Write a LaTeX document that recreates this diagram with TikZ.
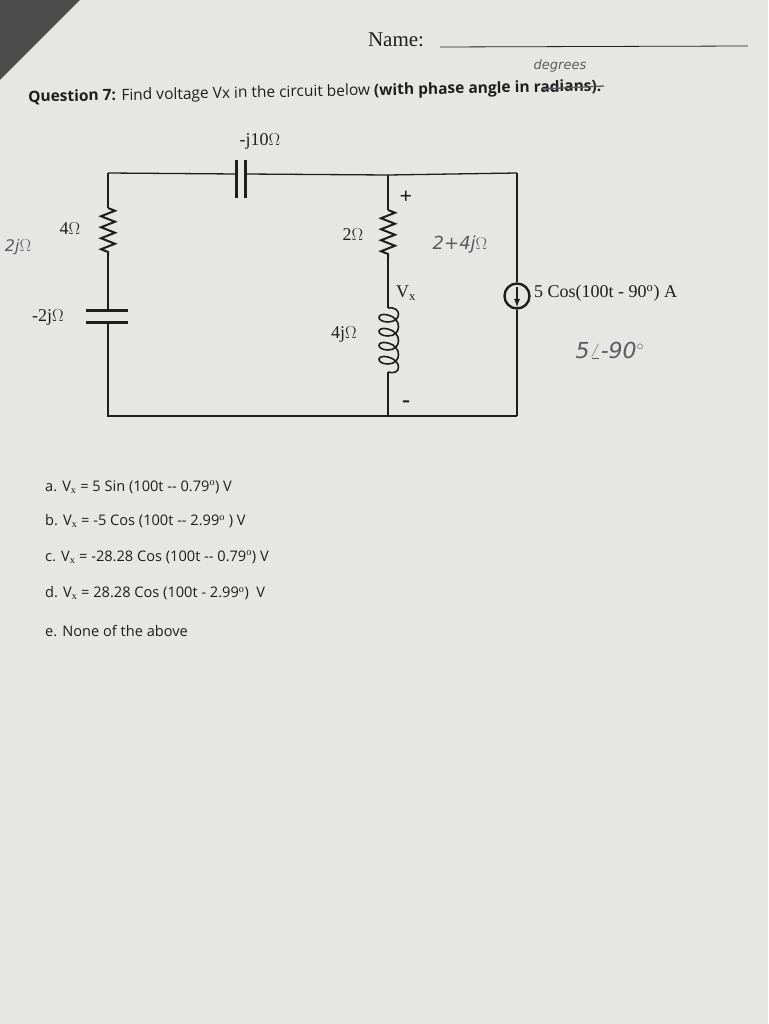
\documentclass[tikz,border=0pt]{standalone}
\usepackage{fontspec}
\setmainfont{Liberation Serif}
\newfontfamily\qsans{Open Sans}
\newfontfamily\hand{DejaVu Sans}
\usetikzlibrary{decorations.pathmorphing}
\definecolor{paper}{HTML}{E6E6E4}
\definecolor{ink}{HTML}{1E1E1E}
\definecolor{pen}{HTML}{5A5A60}
\tikzset{x=1pt,y=-1pt,
 wire/.style={draw=ink,line width=1.3pt},
 thick2/.style={draw=ink,line width=3pt},
 lbl/.style={font=\fontsize{18}{18}\selectfont,text=ink,inner sep=0pt},
 ans/.style={font=\qsans\fontsize{14.6}{15}\selectfont,text=ink,anchor=west,inner sep=0pt},
 hw/.style={font=\hand\fontsize{16}{16}\selectfont\itshape,text=pen,inner sep=0pt},
 res/.style={draw=ink,line width=2pt,decorate,decoration={zigzag,amplitude=7pt,segment length=11pt}},
}
\begin{document}
\begin{tikzpicture}
\useasboundingbox (0,0) rectangle (768,1024);
\fill[paper] (0,0) rectangle (768,1024);
\fill[black!70] (0,0) -- (80,0) -- (0,80) -- cycle;
% header
\node[font=\fontsize{21}{21}\selectfont,text=ink,inner sep=0pt] (name) at (396,40) {Name:};
\coordinate (nl1) at (440,47); \coordinate (nl2) at (748,46);
\draw[ink,line width=0.8pt] (nl1) -- (nl2);
\node[font=\qsans\fontsize{15.5}{15.5}\selectfont,text=ink,anchor=west,inner sep=0pt,rotate=1.1] (q) at (28,98) {\textbf{Question 7:} Find voltage Vx in the circuit below \textbf{(with phase angle in radians).}};
\draw[pen,line width=1.3pt] (542,89) -- (604,86);
\node[hw,font=\hand\fontsize{13}{13}\selectfont\itshape] (deg) at (560,66) {degrees};
% coordinates
\coordinate (tl) at (108,173); \coordinate (tm) at (388,175); \coordinate (tr) at (517,173);
\coordinate (bl) at (108,416); \coordinate (bm) at (388,416); \coordinate (br) at (517,416);
% top wire with capacitor
\coordinate (c1a) at (236,174); \coordinate (c1b) at (245,174);
\draw[wire] (tl) -- (c1a); \draw[wire] (c1b) -- (tm) -- (tr);
\draw[thick2] (236,160) -- (236,198); \draw[thick2] (245,160) -- (245,198);
\node[lbl] (lc1) at (260,141) {-j10$\Omega$};
% left branch
\draw[wire] (tl) -- (108,208);
\draw[res] (108,208) -- (108,256);
\draw[wire] (108,256) -- (108,310);
\draw[thick2] (86,310) -- (128,310); \draw[thick2] (86,322) -- (128,322);
\draw[wire] (108,322) -- (bl) -- (bm) -- (br);
\node[lbl] (lr1) at (70,229) {4$\Omega$};
\node[lbl] (lc2) at (48,317) {-2j$\Omega$};
\node[hw] (h1) at (18,247) {2j$\Omega$};
% middle branch
\draw[wire] (tm) -- (388,210);
\draw[res] (388,210) -- (388,258);
\draw[wire] (388,258) -- (388,308);
\draw[ink,line width=1.6pt] (388,308) .. controls (402,306) and (402,322) .. (388,322)
  .. controls (376,322) and (376,312) .. (388,315)
  .. controls (402,318) and (402,336) .. (388,336)
  .. controls (376,336) and (376,326) .. (388,329)
  .. controls (402,332) and (402,350) .. (388,350)
  .. controls (376,350) and (376,340) .. (388,343)
  .. controls (402,346) and (402,364) .. (388,364)
  .. controls (376,364) and (376,354) .. (388,357)
  .. controls (402,360) and (402,376) .. (388,372);
\draw[wire] (388,372) -- (bm);
\node[lbl] (lr2) at (353,235) {2$\Omega$};
\node[lbl] (ll) at (344,334) {4j$\Omega$};
\node[font=\bfseries\fontsize{22}{22}\selectfont,text=ink,inner sep=0pt] (plus) at (406,197) {+};
\node[font=\bfseries\fontsize{24}{22}\selectfont,text=ink,inner sep=0pt] (minus) at (406,404) {-};
\node[lbl] (vx) at (406,293) {V$_{\mathrm x}$};
\node[hw,font=\hand\fontsize{18}{18}\selectfont\itshape] (h2) at (460,245) {2+4j$\Omega$};
% right branch
\node[circle,draw=ink,line width=2.4pt,minimum size=25pt,inner sep=0pt] (src) at (517,296) {};
\draw[wire] (tr) -- (src.north); \draw[wire] (src.south) -- (br);
\draw[ink,line width=1.8pt,-latex] (517,287) -- (517,307);
\node[lbl,anchor=west] (sl) at (534,293) {5 Cos(100t - 90$^{\mathrm o}$) A};
\node[hw,font=\hand\fontsize{22}{22}\selectfont\itshape] (h3) at (610,350) {5$\angle$-90$^\circ$};
% answers
\node[ans] (a) at (45,487) {a. V$_{\mathrm x}$ = 5 Sin (100t -- 0.79$^{\mathrm o}$) V};
\node[ans] (b) at (45,521) {b. V$_{\mathrm x}$ = -5 Cos (100t -- 2.99$^{\mathrm o}$ ) V};
\node[ans] (c) at (45,557) {c. V$_{\mathrm x}$ = -28.28 Cos (100t -- 0.79$^{\mathrm o}$) V};
\node[ans] (d) at (45,593) {d. V$_{\mathrm x}$ = 28.28 Cos (100t - 2.99$^{\mathrm o}$) \ V};
\node[ans] (e) at (45,631) {e. None of the above};
\end{tikzpicture}
\end{document}
